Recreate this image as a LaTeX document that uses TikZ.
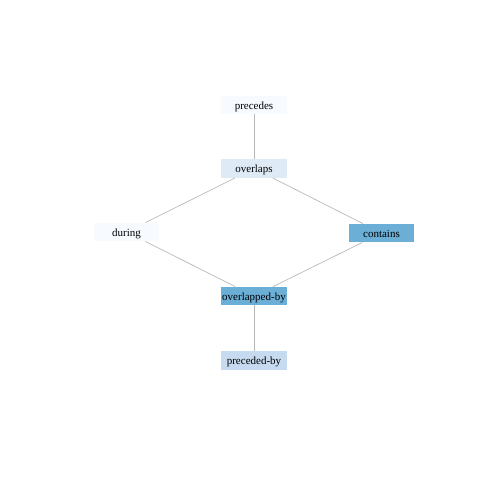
\documentclass[tikz,border=0pt]{standalone}
\usepackage{fontspec}
\setmainfont{Liberation Serif}
\begin{document}
\begin{tikzpicture}[x=1pt,y=-1pt,
  box/.style={minimum width=66pt,minimum height=18.5pt,inner sep=0pt,text height=9pt,text depth=0.5pt,font=\fontsize{11}{13}\selectfont,text=black},
  edge/.style={draw=black!28,line width=0.7pt}]
\useasboundingbox (0,0) rectangle (480,480);
\definecolor{c0}{HTML}{F7FBFF}
\definecolor{c1}{HTML}{DEEBF7}
\definecolor{c2}{HTML}{C6DBEF}
\definecolor{c3}{HTML}{6BAED6}
\node[box,fill=c0] (precedes) at (254,105) {precedes};
\node[box,fill=c1] (overlaps) at (254,168.5) {overlaps};
\node[box,fill=c0,minimum width=65pt] (during) at (126.5,232) {during};
\node[box,fill=c3,minimum width=65pt] (contains) at (381.5,233) {contains};
\node[box,fill=c3] (overlappedby) at (254,296) {overlapped-by};
\node[box,fill=c2] (precededby) at (254,360.5) {preceded-by};
\draw[edge] (precedes) -- (overlaps);
\draw[edge] (overlaps) -- (during);
\draw[edge] (overlaps) -- (contains);
\draw[edge] (during) -- (overlappedby);
\draw[edge] (contains) -- (overlappedby);
\draw[edge] (overlappedby) -- (precededby);
\end{tikzpicture}
\end{document}
